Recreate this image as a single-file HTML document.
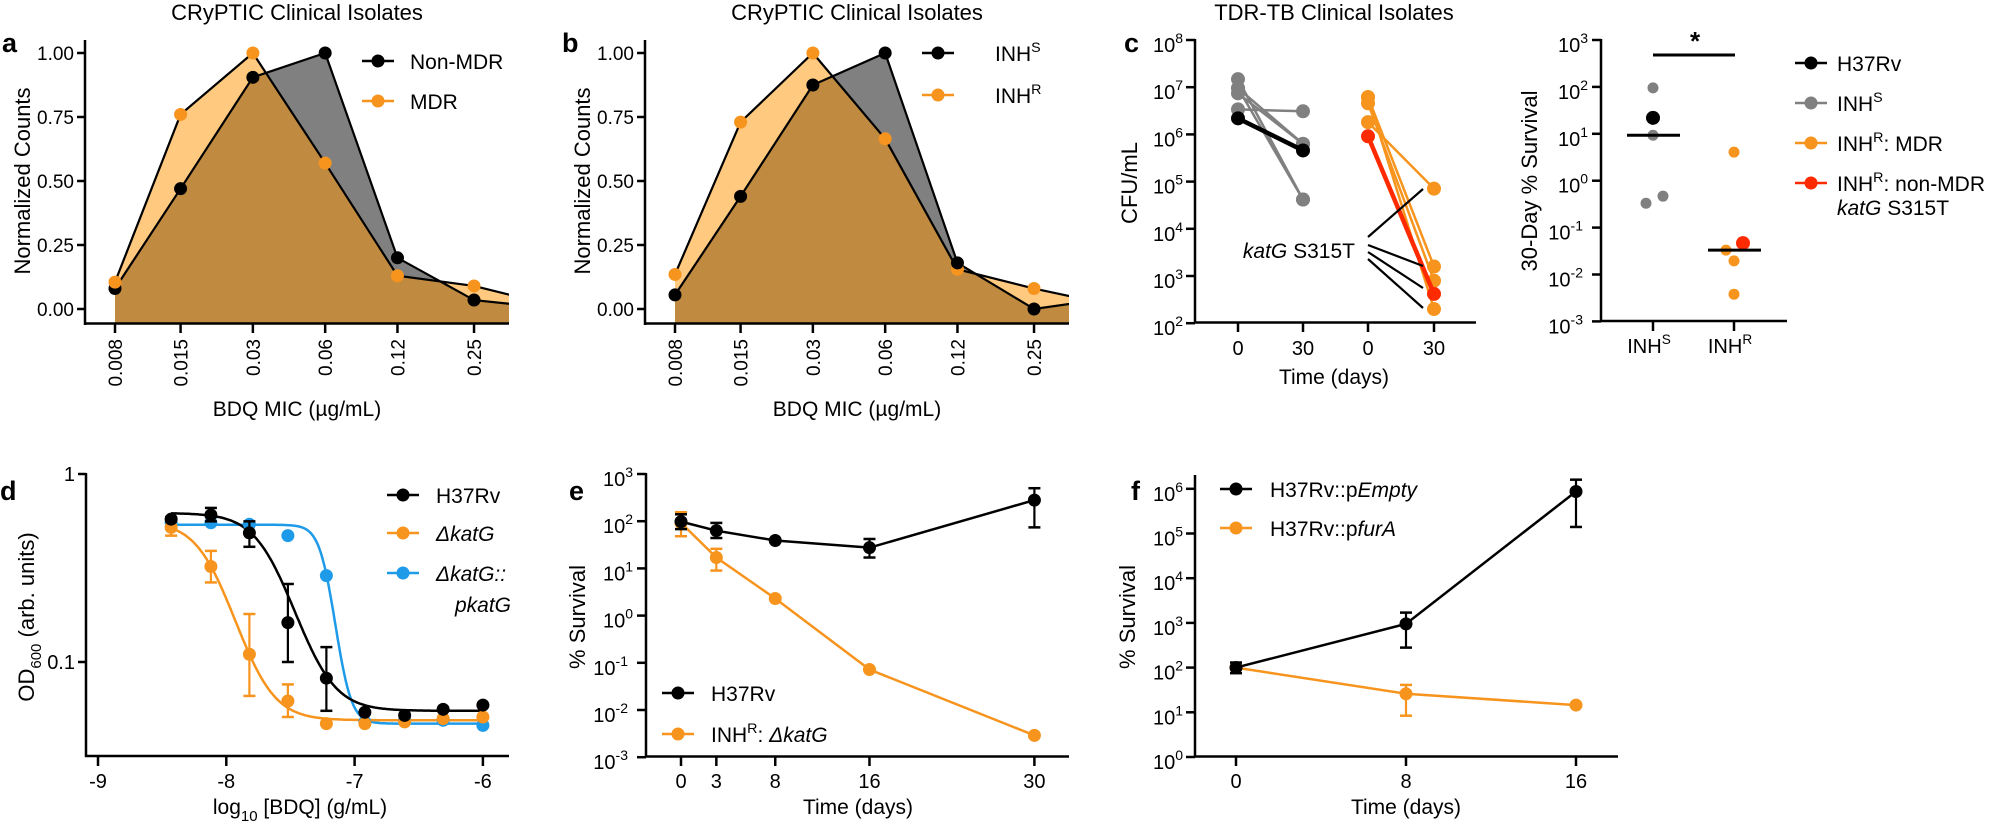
<!DOCTYPE html>
<html><head><meta charset="utf-8"><style>
html,body{margin:0;padding:0;background:#fff;}
svg{display:block;font-family:"Liberation Sans",sans-serif;}
</style></head><body>
<svg id="fig" width="1997" height="826" viewBox="0 0 1997 826" xmlns="http://www.w3.org/2000/svg">
<defs>
<clipPath id="clipA"><rect x="85" y="30" width="424" height="294"/></clipPath>
<clipPath id="clipB"><rect x="645" y="30" width="424" height="294"/></clipPath>
</defs>
</svg>
<script>
// ---------- DATA ----------
const micCats = [0.008, 0.015, 0.03, 0.06, 0.12, 0.25, 0.5];
const micLabels = ["0.008","0.015","0.03","0.06","0.12","0.25"];
const normTicks = [0, 0.25, 0.5, 0.75, 1.0];
const normTickLabels = ["0.00","0.25","0.50","0.75","1.00"];
const aNonMDR = [0.08, 0.47, 0.905, 1.0, 0.20, 0.035, 0.005];
const aMDR = [0.105, 0.76, 1.0, 0.57, 0.13, 0.09, 0.02];
const bINHS = [0.055, 0.44, 0.875, 1.0, 0.18, 0.0, 0.04];
const bINHR = [0.135, 0.73, 1.0, 0.665, 0.155, 0.08, 0.02];

const cTimeLabels = ["0","30","0","30"];
const cGrayStart = [7.17, 6.98, 6.98, 6.87, 6.53];
const cGrayEnd = [4.62, 4.62, 5.8, 5.8, 6.49];
const cBlackStart = [6.34];
const cBlackEnd = [5.66];
const cOrangeStart = [6.26, 6.79, 6.66, 6.79];
const cOrangeEnd = [4.85, 3.2, 2.9, 2.3];
const cRedStart = [5.96];
const cRedEnd = [2.62];

const survCats = ["INHS","INHR"];
const survINHSgray = [1.98, 0.97, -0.48, -0.33];
const survINHSgrayJit = [0, 0, -7, 10];
const survINHSblack = [1.34];
const survINHRorange = [0.61, -1.48, -1.71, -2.42];
const survINHRorangeJit = [0, -8, 0, 0];
const survINHRred = [-1.33];
const survRedJit = [9];
const survMedians = [0.97, -1.48];

const dLogConc = [-8.43, -8.12, -7.82, -7.52, -7.22, -6.92, -6.61, -6.31, -6.0];
const dH37Rv = [0.575, 0.605, 0.486, 0.162, 0.082, 0.054, 0.052, 0.056, 0.059];
const dH37RvHi = [0.59, 0.66, 0.56, 0.26, 0.12, 0.054, 0.052, 0.056, 0.059];
const dH37RvLo = [0.56, 0.56, 0.41, 0.10, 0.055, 0.054, 0.052, 0.056, 0.059];
const dKatG = [0.52, 0.322, 0.110, 0.062, 0.047, 0.047, 0.048, 0.050, 0.051];
const dKatGHi = [0.56, 0.39, 0.18, 0.076, 0.047, 0.047, 0.048, 0.050, 0.051];
const dKatGLo = [0.47, 0.265, 0.066, 0.051, 0.047, 0.047, 0.048, 0.050, 0.051];
const dComp = [0.55, 0.55, 0.54, 0.47, 0.288, 0.048, 0.049, 0.049, 0.046];
const dFitH37Rv = [0.62, 0.055, -7.64, 3.0];
const dFitKatG = [0.56, 0.049, -8.10, 3.1];
const dFitComp = [0.537, 0.047, -7.22, 7.6];
const dXTicks = [-9, -8, -7, -6];

const eDays = [0, 3, 8, 16, 30];
const eH37Rv = [98, 63, 39, 27.5, 280];
const eH37RvHi = [140, 92, 39, 42, 500];
const eH37RvLo = [68, 44, 39, 17, 74];
const eKatG = [92, 17, 2.3, 0.072, 0.0029];
const eKatGHi = [155, 26, 2.3, 0.072, 0.0029];
const eKatGLo = [48, 9, 2.3, 0.072, 0.0029];

const fDays = [0, 8, 16];
const fEmpty = [100, 950, 870000];
const fEmptyHi = [130, 1700, 1600000];
const fEmptyLo = [75, 280, 140000];
const fFurA = [100, 26, 14.5];
const fFurAHi = [110, 41, 14.5];
const fFurALo = [90, 8.4, 14.5];

// ---------- HELPERS ----------
const NS = "http://www.w3.org/2000/svg";
const svg = document.getElementById("fig");
const ORANGE = "#F7941D", GRAY = "#808080", RED = "#FF2A00", BLUE = "#1E9BE8";
function mk(tag, attrs, parent) {
  const e = document.createElementNS(NS, tag);
  for (const k in attrs) e.setAttribute(k, attrs[k]);
  (parent || svg).appendChild(e);
  return e;
}
function group(name) {
  const g = mk("g", {});
  
  
  return g;
}
function line(g, x1, y1, x2, y2, stroke, w) {
  return mk("line", {x1, y1, x2, y2, stroke, "stroke-width": w || 2.5}, g);
}
function text(g, x, y, str, size, anchor, extra) {
  const t = mk("text", Object.assign({x, y, "font-size": size, "text-anchor": anchor || "start", fill: "#000"}, extra || {}), g);
  t.textContent = str;
  return t;
}
function pow10(g, x, y, exp, size) {
  const t = mk("text", {x, y, "font-size": size, "text-anchor": "end"}, g);
  const a = mk("tspan", {}, t); a.textContent = "10";
  const b = mk("tspan", {dy: -9, "font-size": size * 0.7}, t); b.textContent = String(exp);
  return t;
}
function dot(g, x, y, r, fill) { return mk("circle", {cx: x, cy: y, r, fill}, g); }
function errbar(g, x, y1, y2, color) {
  line(g, x, y1, x, y2, color, 2.2);
  line(g, x - 6, y1, x + 6, y1, color, 2.5);
  line(g, x - 6, y2, x + 6, y2, color, 2.5);
}
function legendEntry(g, x, y, color, name) {
  const le = mk("g", {}, g);
  
  
  line(le, x - 16, y, x + 16, y, color, 2.5);
  dot(le, x, y, 6.5, color);
  return le;
}
function supText(g, x, y, base, sup, rest, size, anchor) {
  const t = mk("text", {x, y, "font-size": size, "text-anchor": anchor || "start"}, g);
  const a = mk("tspan", {}, t); a.textContent = base;
  const b = mk("tspan", {dy: -9, "font-size": size * 0.68}, t); b.textContent = sup;
  if (rest) { const c = mk("tspan", {dy: 9}, t); c.textContent = rest; }
  return t;
}

// ---------- PANELS a & b ----------
function panelAB(dx, title, letter, s1, s2, legY1, legY2, legName, clip) {
  const g = group("panel-" + letter);
  const xS = v => dx + 115 + Math.log2(v / 0.008) * 72.3;
  const yS = v => 309 - 256 * v;
  text(g, dx + 297, 20, title, 22, "middle");
  text(g, dx + 2, 52, letter, 27, "start", {"font-weight": "bold"});
  const fills = mk("g", {"clip-path": "url(#" + clip + ")"}, g);
  function poly(arr) {
    let pts = xS(micCats[0]) + ",324 ";
    arr.forEach((v, i) => pts += xS(micCats[i]) + "," + yS(v) + " ");
    pts += xS(micCats[arr.length - 1]) + ",324";
    return pts;
  }
  const p1 = mk("polygon", {points: poly(s1), fill: GRAY}, fills);
  
  const p2 = mk("polygon", {points: poly(s2), fill: "rgba(255,148,0,0.5)"}, fills);
  
  function pl(arr) { return arr.map((v, i) => xS(micCats[i]) + "," + yS(v)).join(" "); }
  mk("polyline", {points: pl(s1), fill: "none", stroke: "#000", "stroke-width": 2.2}, fills);
  mk("polyline", {points: pl(s2), fill: "none", stroke: "#000", "stroke-width": 2.2}, fills);
  for (let i = 0; i < 6; i++) if (s1[i] < s2[i]) dot(g, xS(micCats[i]), yS(s1[i]), 6.5, "#000");
  for (let i = 0; i < 6; i++) dot(g, xS(micCats[i]), yS(s2[i]), 6.5, ORANGE);
  for (let i = 0; i < 6; i++) if (s1[i] >= s2[i]) dot(g, xS(micCats[i]), yS(s1[i]), 6.5, "#000");
  const ax = mk("g", {}, g);
  
  
  line(ax, dx + 85, 40, dx + 85, 325, "#000", 2.5);
  normTicks.forEach((v, i) => {
    line(ax, dx + 77, yS(v), dx + 85, yS(v), "#000", 2.5);
    text(ax, dx + 74, yS(v) + 7, normTickLabels[i], 19, "end");
  });
  const xa = mk("g", {}, g);
  
  
  line(xa, dx + 84, 323.5, dx + 509, 323.5, "#000", 2.5);
  micLabels.forEach((l, i) => {
    const x = xS(micCats[i]);
    line(xa, x, 323, x, 333, "#000", 2.5);
    text(xa, 0, 0, l, 19, "end", {transform: "translate(" + (x + 7) + ",339) rotate(-90)"});
  });
  text(g, dx + 297, 416, "BDQ MIC (µg/mL)", 21, "middle");
  text(g, 0, 0, "Normalized Counts", 22, "middle", {transform: "translate(" + (dx + 30) + ",181) rotate(-90)"});
  const lg = mk("g", {}, g);
  
  
  legendEntry(lg, dx + 378, legY1, "#000", "legend-entry-1");
  legendEntry(lg, dx + 378, legY2, ORANGE, "legend-entry-2");
  return {g, lg};
}
const A = panelAB(0, "CRyPTIC Clinical Isolates", "a", aNonMDR, aMDR, 61, 101, "legend-a", "clipA");
text(A.lg, 410, 69, "Non-MDR", 21);
text(A.lg, 410, 109, "MDR", 21);
const B = panelAB(560, "CRyPTIC Clinical Isolates", "b", bINHS, bINHR, 53, 95, "legend-b", "clipB");
supText(B.lg, 995, 61, "INH", "S", "", 21);
supText(B.lg, 995, 103, "INH", "R", "", 21);

// ---------- PANEL c (left) ----------
(function () {
  const g = group("panel-c-cfu");
  const yS = l => 40 + (8 - l) * 47.2;
  const xPos = [1238, 1303, 1368, 1434];
  text(g, 1334, 20, "TDR-TB Clinical Isolates", 22, "middle");
  text(g, 1124, 52, "c", 27, "start", {"font-weight": "bold"});
  const ax = mk("g", {}, g);
  
  
  line(ax, 1195, 39, 1195, 323, "#000", 2.5);
  for (let e = 2; e <= 8; e++) {
    line(ax, 1186, yS(e), 1195, yS(e), "#000", 2.5);
    pow10(ax, 1183, yS(e) + 12, e, 20);
  }
  const xa = mk("g", {}, g);
  
  
  line(xa, 1194, 322.5, 1476, 322.5, "#000", 2.5);
  cTimeLabels.forEach((l, i) => {
    line(xa, xPos[i], 322, xPos[i], 332, "#000", 2.5);
    text(xa, xPos[i], 355, l, 20, "middle");
  });
  text(g, 1334, 384, "Time (days)", 21, "middle");
  text(g, 0, 0, "CFU/mL", 22, "middle", {transform: "translate(1137,183) rotate(-90)"});
  function pairs(st, en, x0, x1, color, w, r, name) {
    const sg = mk("g", {}, g);
    
    
    st.forEach((v, i) => {
      line(sg, x0, yS(v), x1, yS(en[i]), color, w);
      dot(sg, x0, yS(v), r, color);
      dot(sg, x1, yS(en[i]), r, color);
    });
  }
  pairs(cGrayStart, cGrayEnd, xPos[0], xPos[1], GRAY, 2.5, 7, "inhs-series");
  pairs(cBlackStart, cBlackEnd, xPos[0], xPos[1], "#000", 4.5, 7, "h37rv-series");
  pairs(cOrangeStart, cOrangeEnd, xPos[2], xPos[3], ORANGE, 2.5, 7, "inhr-mdr-series");
  pairs(cRedStart, cRedEnd, xPos[2], xPos[3], RED, 4.5, 7, "inhr-nonmdr-series");
  const an = mk("g", {}, g);
  
  
  const t = mk("text", {x: 1355, y: 258, "font-size": 21, "text-anchor": "end"}, an);
  const t1 = mk("tspan", {"font-style": "italic"}, t); t1.textContent = "katG";
  const t2 = mk("tspan", {}, t); t2.textContent = " S315T";
  line(an, 1368, 237, 1423, 189, "#000", 2.2);
  line(an, 1368, 245, 1423, 266, "#000", 2.2);
  line(an, 1368, 252, 1423, 288, "#000", 2.2);
  line(an, 1368, 259, 1423, 308, "#000", 2.2);
})();

// ---------- PANEL c (right) ----------
(function () {
  const g = group("panel-c-survival");
  const yS = l => 40 + (3 - l) * 46.9;
  const xC = [1653, 1734];
  const ax = mk("g", {}, g);
  
  
  line(ax, 1601, 39, 1601, 322, "#000", 2.5);
  for (let e = -3; e <= 3; e++) {
    line(ax, 1592, yS(e), 1601, yS(e), "#000", 2.5);
    pow10(ax, e < 0 ? 1583 : 1588, yS(e) + 12, e, 20);
  }
  const xa = mk("g", {}, g);
  
  
  line(xa, 1600, 321, 1787, 321, "#000", 2.5);
  xC.forEach((x, i) => {
    line(xa, x, 321, x, 331, "#000", 2.5);
    supText(xa, x - 4, 353, "INH", i === 0 ? "S" : "R", "", 20, "middle");
  });
  text(g, 0, 0, "30-Day % Survival", 22, "middle", {transform: "translate(1537,181) rotate(-90)"});
  const pts = mk("g", {}, g);
  
  
  survINHSgray.forEach((v, i) => dot(pts, xC[0] + survINHSgrayJit[i], yS(v), 5.5, GRAY));
  survINHSblack.forEach(v => dot(pts, xC[0], yS(v), 7, "#000"));
  survINHRorange.forEach((v, i) => dot(pts, xC[1] + survINHRorangeJit[i], yS(v), 5.5, ORANGE));
  survINHRred.forEach((v, i) => dot(pts, xC[1] + survRedJit[i], yS(v), 7, RED));
  survMedians.forEach((v, i) => {
    const m = line(pts, xC[i] - 26, yS(v), xC[i] + 27, yS(v), "#000", 3);
    
  });
  const sig = mk("g", {}, g);
  
  
  line(sig, 1653, 55, 1735, 55, "#000", 3);
  text(sig, 1695, 50, "*", 26, "middle", {"font-weight": "bold"});
  const lg = mk("g", {}, g);
  
  
  legendEntry(lg, 1811, 63, "#000", "legend-h37rv");
  text(lg, 1837, 71, "H37Rv", 21);
  legendEntry(lg, 1811, 103, GRAY, "legend-inhs");
  supText(lg, 1837, 111, "INH", "S", "", 21);
  legendEntry(lg, 1811, 143, ORANGE, "legend-inhr-mdr");
  supText(lg, 1837, 151, "INH", "R", ": MDR", 21);
  legendEntry(lg, 1811, 183, RED, "legend-inhr-nonmdr");
  supText(lg, 1837, 191, "INH", "R", ": non-MDR", 21);
  const t = mk("text", {x: 1837, y: 215, "font-size": 21}, lg);
  const t1 = mk("tspan", {"font-style": "italic"}, t); t1.textContent = "katG";
  const t2 = mk("tspan", {}, t); t2.textContent = " S315T";
})();

// ---------- PANEL d ----------
(function () {
  const g = group("panel-d");
  const xS = l => 98 + (l + 9) * 128.3;
  const yS = v => 474 - Math.log10(v) * 188;
  text(g, 0, 500, "d", 27, "start", {"font-weight": "bold"});
  const ax = mk("g", {}, g);
  
  
  line(ax, 86, 473, 86, 757, "#000", 2.5);
  line(ax, 78, yS(1), 86, yS(1), "#000", 2.5);
  line(ax, 78, yS(0.1), 86, yS(0.1), "#000", 2.5);
  text(ax, 75, yS(1) + 7, "1", 20, "end");
  text(ax, 75, yS(0.1) + 7, "0.1", 20, "end");
  const xa = mk("g", {}, g);
  
  
  line(xa, 85, 756, 509, 756, "#000", 2.5);
  dXTicks.forEach(t => {
    line(xa, xS(t), 756, xS(t), 766, "#000", 2.5);
    text(xa, xS(t), 788, String(t), 20, "middle");
  });
  const xt = mk("text", {x: 300, y: 814, "font-size": 21, "text-anchor": "middle"}, g);
  
  const a1 = mk("tspan", {}, xt); a1.textContent = "log";
  const a2 = mk("tspan", {dy: 7, "font-size": 15}, xt); a2.textContent = "10";
  const a3 = mk("tspan", {dy: -7}, xt); a3.textContent = " [BDQ] (g/mL)";
  const yt = mk("text", {"font-size": 22, "text-anchor": "middle", transform: "translate(34,617) rotate(-90)"}, g);
  
  const b1 = mk("tspan", {}, yt); b1.textContent = "OD";
  const b2 = mk("tspan", {dy: 7, "font-size": 15}, yt); b2.textContent = "600";
  const b3 = mk("tspan", {dy: -7}, yt); b3.textContent = " (arb. units)";
  function curve(p, color, name) {
    let d = "";
    for (let i = 0; i <= 200; i++) {
      const l = -8.43 + i * (2.43 / 200);
      const v = p[1] + (p[0] - p[1]) / (1 + Math.pow(10, (l - p[2]) * p[3]));
      d += (i ? "L" : "M") + xS(l).toFixed(1) + "," + yS(v).toFixed(1);
    }
    const c = mk("path", {d, fill: "none", stroke: color, "stroke-width": 2.5}, g);
    
  }
  curve(dFitComp, BLUE, "fit-katg-complement");
  curve(dFitKatG, ORANGE, "fit-katg");
  curve(dFitH37Rv, "#000", "fit-h37rv");
  function pts(vals, hi, lo, color, name) {
    const sg = mk("g", {}, g);
    
    
    vals.forEach((v, i) => {
      if (hi && hi[i] !== lo[i]) errbar(sg, xS(dLogConc[i]), yS(hi[i]), yS(lo[i]), color);
      dot(sg, xS(dLogConc[i]), yS(v), 6.5, color);
    });
  }
  pts(dComp, null, null, BLUE, "points-katg-complement");
  pts(dKatG, dKatGHi, dKatGLo, ORANGE, "points-katg");
  pts(dH37Rv, dH37RvHi, dH37RvLo, "#000", "points-h37rv");
  const lg = mk("g", {}, g);
  
  
  legendEntry(lg, 403, 495, "#000", "legend-h37rv");
  text(lg, 436, 503, "H37Rv", 21);
  legendEntry(lg, 403, 533, ORANGE, "legend-katg");
  text(lg, 436, 541, "ΔkatG", 21, "start", {"font-style": "italic"});
  legendEntry(lg, 403, 573, BLUE, "legend-katg-complement");
  text(lg, 436, 581, "ΔkatG::", 21, "start", {"font-style": "italic"});
  text(lg, 511, 612, "pkatG", 21, "end", {"font-style": "italic"});
})();

// ---------- PANEL e ----------
(function () {
  const g = group("panel-e");
  const xS = d => 681 + d * 11.78;
  const Y = v => 474 + (3 - Math.log10(v)) * 47.2;
  text(g, 569, 500, "e", 27, "start", {"font-weight": "bold"});
  const ax = mk("g", {}, g);
  
  
  line(ax, 646, 473, 646, 757, "#000", 2.5);
  for (let e = -3; e <= 3; e++) {
    const y = 474 + (3 - e) * 47.2;
    line(ax, 637, y, 646, y, "#000", 2.5);
    pow10(ax, e < 0 ? 628 : 633, y + 12, e, 20);
  }
  const xa = mk("g", {}, g);
  
  
  line(xa, 645, 756.5, 1069, 756.5, "#000", 2.5);
  eDays.forEach(d => {
    line(xa, xS(d), 756, xS(d), 766, "#000", 2.5);
    text(xa, xS(d), 788, String(d), 20, "middle");
  });
  text(g, 858, 814, "Time (days)", 21, "middle");
  text(g, 0, 0, "% Survival", 22, "middle", {transform: "translate(585,617) rotate(-90)"});
  function series(vals, hi, lo, color, name) {
    const sg = mk("g", {}, g);
    
    
    mk("polyline", {points: vals.map((v, i) => xS(eDays[i]) + "," + Y(v)).join(" "), fill: "none", stroke: color, "stroke-width": 2.5}, sg);
    vals.forEach((v, i) => {
      if (hi[i] !== lo[i]) errbar(sg, xS(eDays[i]), Y(hi[i]), Y(lo[i]), color);
      dot(sg, xS(eDays[i]), Y(v), 6.5, color);
    });
  }
  series(eKatG, eKatGHi, eKatGLo, ORANGE, "series-inhr-katg");
  series(eH37Rv, eH37RvHi, eH37RvLo, "#000", "series-h37rv");
  const lg = mk("g", {}, g);
  
  
  legendEntry(lg, 678, 693, "#000", "legend-h37rv");
  text(lg, 711, 701, "H37Rv", 21);
  legendEntry(lg, 678, 734, ORANGE, "legend-inhr-katg");
  const t = supText(lg, 711, 742, "INH", "R", ": ", 21);
  const it = mk("tspan", {"font-style": "italic"}, t); it.textContent = "ΔkatG";
})();

// ---------- PANEL f ----------
(function () {
  const g = group("panel-f");
  const xS = d => 1236 + d * 21.25;
  const Y = v => 757 - Math.log10(v) * 44.7;
  text(g, 1131, 500, "f", 27, "start", {"font-weight": "bold"});
  const ax = mk("g", {}, g);
  
  
  line(ax, 1195, 475, 1195, 757, "#000", 2.5);
  for (let e = 0; e <= 6; e++) {
    const y = 757 - e * 44.7;
    line(ax, 1186, y, 1195, y, "#000", 2.5);
    pow10(ax, 1183, y + 12, e, 20);
  }
  const xa = mk("g", {}, g);
  
  
  line(xa, 1194, 756.5, 1618, 756.5, "#000", 2.5);
  fDays.forEach(d => {
    line(xa, xS(d), 756, xS(d), 766, "#000", 2.5);
    text(xa, xS(d), 788, String(d), 20, "middle");
  });
  text(g, 1406, 814, "Time (days)", 21, "middle");
  text(g, 0, 0, "% Survival", 22, "middle", {transform: "translate(1135,617) rotate(-90)"});
  function series(vals, hi, lo, color, name) {
    const sg = mk("g", {}, g);
    
    
    mk("polyline", {points: vals.map((v, i) => xS(fDays[i]) + "," + Y(v)).join(" "), fill: "none", stroke: color, "stroke-width": 2.5}, sg);
    vals.forEach((v, i) => {
      if (hi[i] !== lo[i]) errbar(sg, xS(fDays[i]), Y(hi[i]), Y(lo[i]), color);
      dot(sg, xS(fDays[i]), Y(v), 6.5, color);
    });
  }
  series(fFurA, fFurAHi, fFurALo, ORANGE, "series-pfura");
  series(fEmpty, fEmptyHi, fEmptyLo, "#000", "series-pempty");
  const lg = mk("g", {}, g);
  
  
  legendEntry(lg, 1236, 489, "#000", "legend-pempty");
  const t1 = text(lg, 1270, 497, "H37Rv::p", 21);
  const i1 = mk("tspan", {"font-style": "italic"}, t1); i1.textContent = "Empty";
  legendEntry(lg, 1236, 528, ORANGE, "legend-pfura");
  const t2 = text(lg, 1270, 536, "H37Rv::p", 21);
  const i2 = mk("tspan", {"font-style": "italic"}, t2); i2.textContent = "furA";
})();
</script>
</body></html>
